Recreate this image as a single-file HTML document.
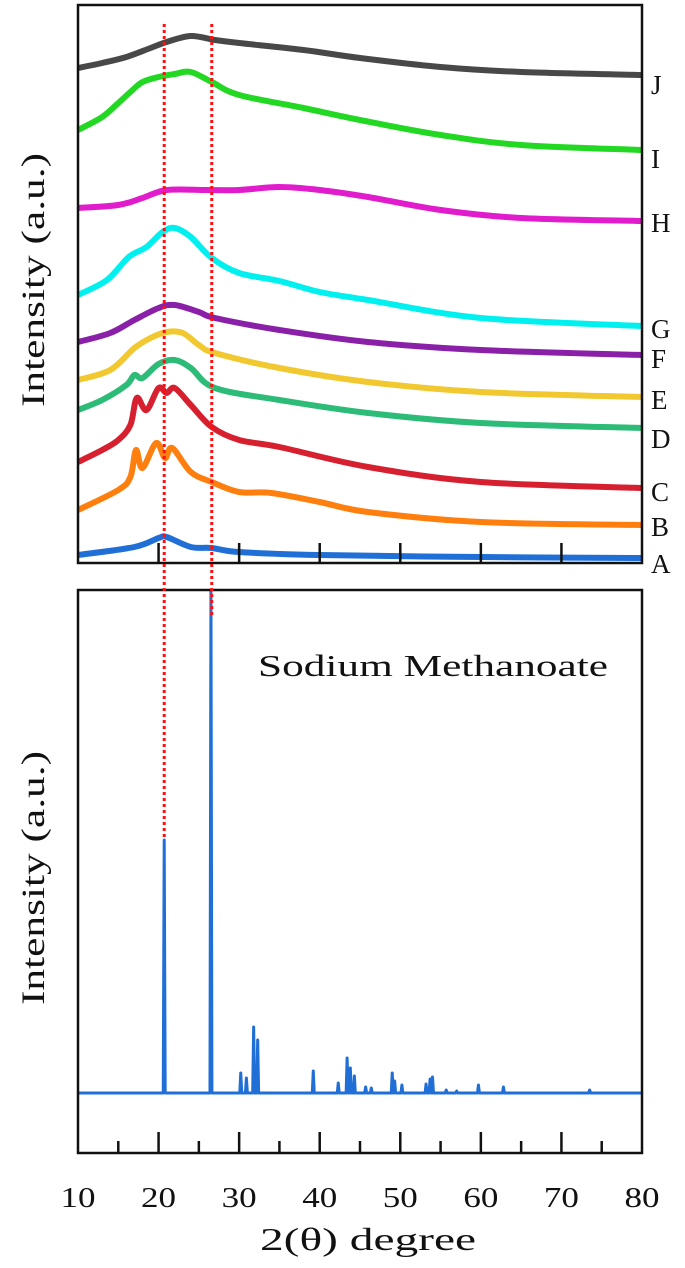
<!DOCTYPE html>
<html><head><meta charset="utf-8"><style>
html,body{margin:0;padding:0;background:#fff;}
svg{display:block;font-family:"Liberation Serif",serif;}
</style></head><body>
<div style="position:relative;width:685px;height:1268px">
<svg id="chart" width="685" height="1268" viewBox="0 0 685 1268" style="position:absolute;left:0;top:0"></svg>
<svg width="685" height="1268" style="position:absolute;left:0;top:0;font-family:'Liberation Serif',serif">
<text x="33" y="280" font-size="33" text-anchor="middle" transform="rotate(-90 33 280)" fill="#111" textLength="254" lengthAdjust="spacingAndGlyphs" dy="11">Intensity (a.u.)</text>
<text x="33" y="878" font-size="33" text-anchor="middle" transform="rotate(-90 33 878)" fill="#111" textLength="254" lengthAdjust="spacingAndGlyphs" dy="11">Intensity (a.u.)</text>
<text x="258" y="676" font-size="31" fill="#111" textLength="350" lengthAdjust="spacingAndGlyphs">Sodium Methanoate</text>
<text x="368" y="1250" font-size="32" text-anchor="middle" fill="#111" textLength="216" lengthAdjust="spacingAndGlyphs">2(θ) degree</text>
</svg>
</div>
<script>
// ---- data ----
const xTicks = [10,20,30,40,50,60,70,80];
const seriesNames = ["A","B","C","D","E","F","G","H","I","J"];
const seriesColors = ["#1f6fd6","#ff7f0e","#d62030","#2dbb78","#f2c830","#8a1fa8","#00f0f0","#e01ccc","#22d822","#484848"];
const degA = [10,17,20,21,24,26.6,30,40,60,80];
const valA = [8,16,25,26,16,15,11,8,6,5];
const degB = [10,15,16.5,17.2,18,19.7,20.8,21.7,24,26.6,30,34,40,46,60,80];
const valB = [53,73,86,113,95,120,105,115,91,81,71,70,61,51,41,38];
const degC = [10,13,15,16.5,17.3,18.5,20,21,22,24,26.6,30,35,46,60,80];
const valC = [101,113,123,138,165,153,175,170,175,158,136,123,116,96,81,75];
const degD = [10,13,16,17,18,20,22,24,27,35,46,60,80];
const valD = [153,163,178,188,185,199,203,195,175,163,150,140,135];
const degE = [10,14,17,19,21,23,25,27,35,46,60,80];
const valE = [183,193,215,225,231,230,218,210,195,181,171,166];
const degF = [10,14,17,20,22,25,27,35,46,60,80];
const valF = [221,230,243,255,258,251,245,233,221,213,208];
const degG = [10,13.6,16.3,18.5,20.5,22,24,26.6,30,35,40,46,60,80];
const valG = [268,283,306,316,331,335,326,305,290,282,271,263,245,237];
const degH = [10,15,18,21,26,30,35,40,46,55,65,80];
const valH = [355,358,365,373,373,373,376,373,366,353,345,342];
const degI = [10,13,15,16.5,18,20,22,24,26.6,30,38,45,55,65,80];
const valI = [433,446,460,471,481,486,489,491,481,468,455,443,428,418,413];
const degJ = [10,13,16,19,21,24,27,30,38,45,55,65,80];
const valJ = [495,500,506,515,521,527,523,520,513,505,496,491,488];
const peakDeg = [20.7,26.5,30.2,30.9,31.8,32.3,39.2,42.3,43.4,43.8,44.3,45.7,46.4,49.0,49.3,50.2,53.2,53.7,54.0,55.7,57.0,59.7,62.8,73.5];
const peakVal = [253,501,20,15,66,53,22,10,35,25,17,6,5,20,12,8,9,14,16,3,2,8,6,3];
const refLinesDeg = [20.7,26.6];

// ---- scales ----
const X0=78, X1=642;
const xS = d => X0 + (d-10)/(80-10)*(X1-X0);
const yTop = v => 563 - v;
const yBot = v => 1093 - v;
const NS="http://www.w3.org/2000/svg";
const svg=document.getElementById('chart');
function mk(tag,attrs,parent){const e=document.createElementNS(NS,tag);for(const k in attrs)e.setAttribute(k,attrs[k]);(parent||svg).appendChild(e);return e;}

function smoothPath(xs,ys){
  const p=xs.map((x,i)=>[x,ys[i]]);
  let d=`M${p[0][0]},${p[0][1]}`;
  for(let i=0;i<p.length-1;i++){
    const p0=p[i-1]||p[i],p1=p[i],p2=p[i+1],p3=p[i+2]||p2;
    const c1=[p1[0]+(p2[0]-p0[0])/6,p1[1]+(p2[1]-p0[1])/6];
    const c2=[p2[0]-(p3[0]-p1[0])/6,p2[1]-(p3[1]-p1[1])/6];
    d+=` C${c1[0]},${c1[1]} ${c2[0]},${c2[1]} ${p2[0]},${p2[1]}`;
  }
  return d;
}

const degs=[degA,degB,degC,degD,degE,degF,degG,degH,degI,degJ];
const vals=[valA,valB,valC,valD,valE,valF,valG,valH,valI,valJ];
const labelY=[563,526,491,438,399,358,328,222,158,84];
for(let s=0;s<10;s++){
  const p=mk('path',{d:smoothPath(degs[s].map(xS),vals[s].map(yTop)),fill:'none',stroke:seriesColors[s],'stroke-width':6,'stroke-linejoin':'round'});
  
  
  const t=mk('text',{x:651,y:labelY[s]+10,'font-size':27,fill:'#111'});
  t.textContent=seriesNames[s];
  
  
}

let order=peakDeg.map((d,i)=>i).sort((a,b)=>peakDeg[a]-peakDeg[b]);
let pd=`M${xS(10)},${yBot(0)}`;
order.forEach(i=>{pd+=` L${xS(peakDeg[i]-0.12)},${yBot(0)} L${xS(peakDeg[i])},${yBot(peakVal[i])} L${xS(peakDeg[i]+0.12)},${yBot(0)}`;});
pd+=` L${xS(80)},${yBot(0)}`;
const bp=mk('path',{d:pd,fill:'none',stroke:'#1f6fd6','stroke-width':3,'stroke-linejoin':'round'});



const f1=mk('rect',{x:X0,y:5,width:X1-X0,height:558,fill:'none',stroke:'#111','stroke-width':2.5});


const f2=mk('rect',{x:X0,y:590,width:X1-X0,height:563,fill:'none',stroke:'#111','stroke-width':2.5});



for(let d=15; d<80; d+=5){
  const major=d%10===0;
  const t=mk('line',{x1:xS(d),x2:xS(d),y1:1153,y2:1153-(major?21:12),stroke:'#111','stroke-width':2.5});
  
  
  if(major){
    const t2=mk('line',{x1:xS(d),x2:xS(d),y1:563,y2:543,stroke:'#111','stroke-width':2.5});
    
    
  }
}
xTicks.forEach(v=>{
  const t=mk('text',{x:xS(v),y:1207,'font-size':28,'text-anchor':'middle',fill:'#111',textLength:35,lengthAdjust:'spacingAndGlyphs'});
  t.textContent=v;
  
  
});

const refEnds=[838,617];
refLinesDeg.forEach((d,i)=>{
  const l=mk('line',{x1:xS(d),x2:xS(d),y1:24,y2:refEnds[i],stroke:'#ff1010','stroke-width':3,'stroke-dasharray':'3,3'});
  
  
});
</script>
</body></html>
